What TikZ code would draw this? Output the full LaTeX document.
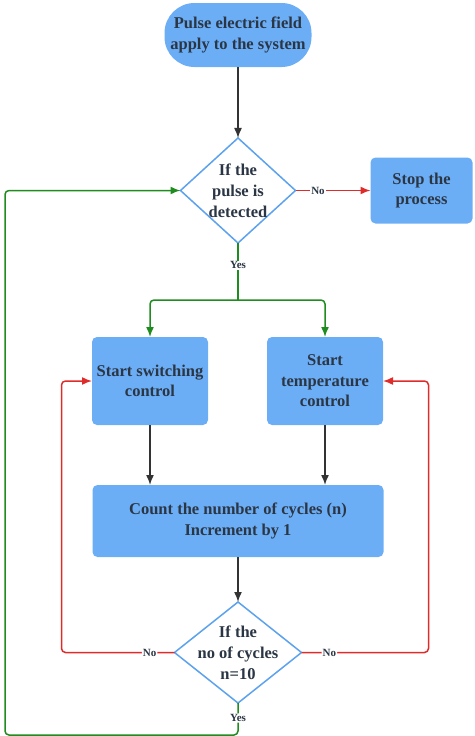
\documentclass[tikz,border=0pt]{standalone}
\usepackage{fontspec}
\setmainfont{Liberation Serif}
\usetikzlibrary{arrows.meta, positioning, calc, shapes.geometric}

\definecolor{boxblue}{HTML}{6CAEF6}
\definecolor{edgeblue}{HTML}{5CA2EE}
\definecolor{textdark}{HTML}{2B3645}
\definecolor{noRed}{HTML}{E02B2B}
\definecolor{yesGreen}{HTML}{1E8C1E}
\definecolor{lineDark}{HTML}{333333}

\tikzset{
  process/.style={rectangle, rounded corners=5pt, fill=boxblue, text=textdark,
    font=\bfseries\fontsize{16.5}{20.5}\selectfont, align=center, inner sep=1pt},
  terminal/.style={process, rounded corners=30pt},
  decision/.style={diamond, draw=edgeblue, line width=1.5pt, fill=white, text=textdark,
    font=\bfseries\fontsize{16.5}{21}\selectfont, align=center, inner sep=-25pt},
  branch/.style={font=\bfseries\fontsize{11}{12}\selectfont, fill=white, inner sep=1pt, text=textdark},
}

\begin{document}
\begin{tikzpicture}[node distance=1.2cm, >={Latex[length=10pt,width=8pt]}, line width=1.5pt, outer sep=0pt]
        \useasboundingbox (0,0) rectangle (474pt,-736pt);

        \node (start) [terminal, minimum width=147pt, minimum height=64pt] at (238pt,-35pt) {Pulse electric field\\apply to the system};
        \node (detect) [decision, minimum width=115pt, minimum height=105pt, below=71pt of start] {If the\\pulse is\\detected};
        \node (stop) [process, minimum width=102pt, minimum height=66pt, right=75pt of detect] {Stop the\\process};
        \node (switch) [process, minimum width=116pt, minimum height=88pt, below=94pt of detect, xshift=-88pt] {Start switching\\control};
        \node (temp) [process, minimum width=116pt, minimum height=88pt, right=59pt of switch] {Start\\temperature\\control};
        \node (count) [process, minimum width=291pt, minimum height=72pt, below=242pt of detect] {Count the number of cycles (n)\\Increment by 1};
        \node (cycles) [decision, minimum width=127pt, minimum height=101pt, below=45pt of count] {If the\\no of cycles\\n=10};

        \draw[->, lineDark] (start) -- (detect);
        \draw[->, noRed] (detect.east) -- node[branch, pos=0.3] {No} (stop.west);
        \draw[yesGreen] (detect.south) -- node[branch, pos=0.39] {Yes} ++(0,-57pt) coordinate (split);
        \draw[->, yesGreen, rounded corners=4pt] (split) -| (switch.north);
        \draw[->, yesGreen, rounded corners=4pt] (split) -| (temp.north);
        \draw[->, lineDark] (switch.south) -- (switch.south |- count.north);
        \draw[->, lineDark] (temp.south) -- (temp.south |- count.north);
        \draw[->, lineDark] (count) -- (cycles);
        \draw[->, noRed, rounded corners=4pt] (cycles.west) -- node[branch, pos=0.22] {No} ++(-113pt,0) |- (switch.west);
        \draw[->, noRed, rounded corners=4pt] (cycles.east) -- node[branch, pos=0.22] {No} ++(127pt,0) |- (temp.east);
        \draw[->, yesGreen, rounded corners=4pt] (cycles.south) -- node[branch, pos=0.47] {Yes} ++(0,-32pt) -- ++(-233pt,0) |- (detect.west);
    \end{tikzpicture}
\end{document}
